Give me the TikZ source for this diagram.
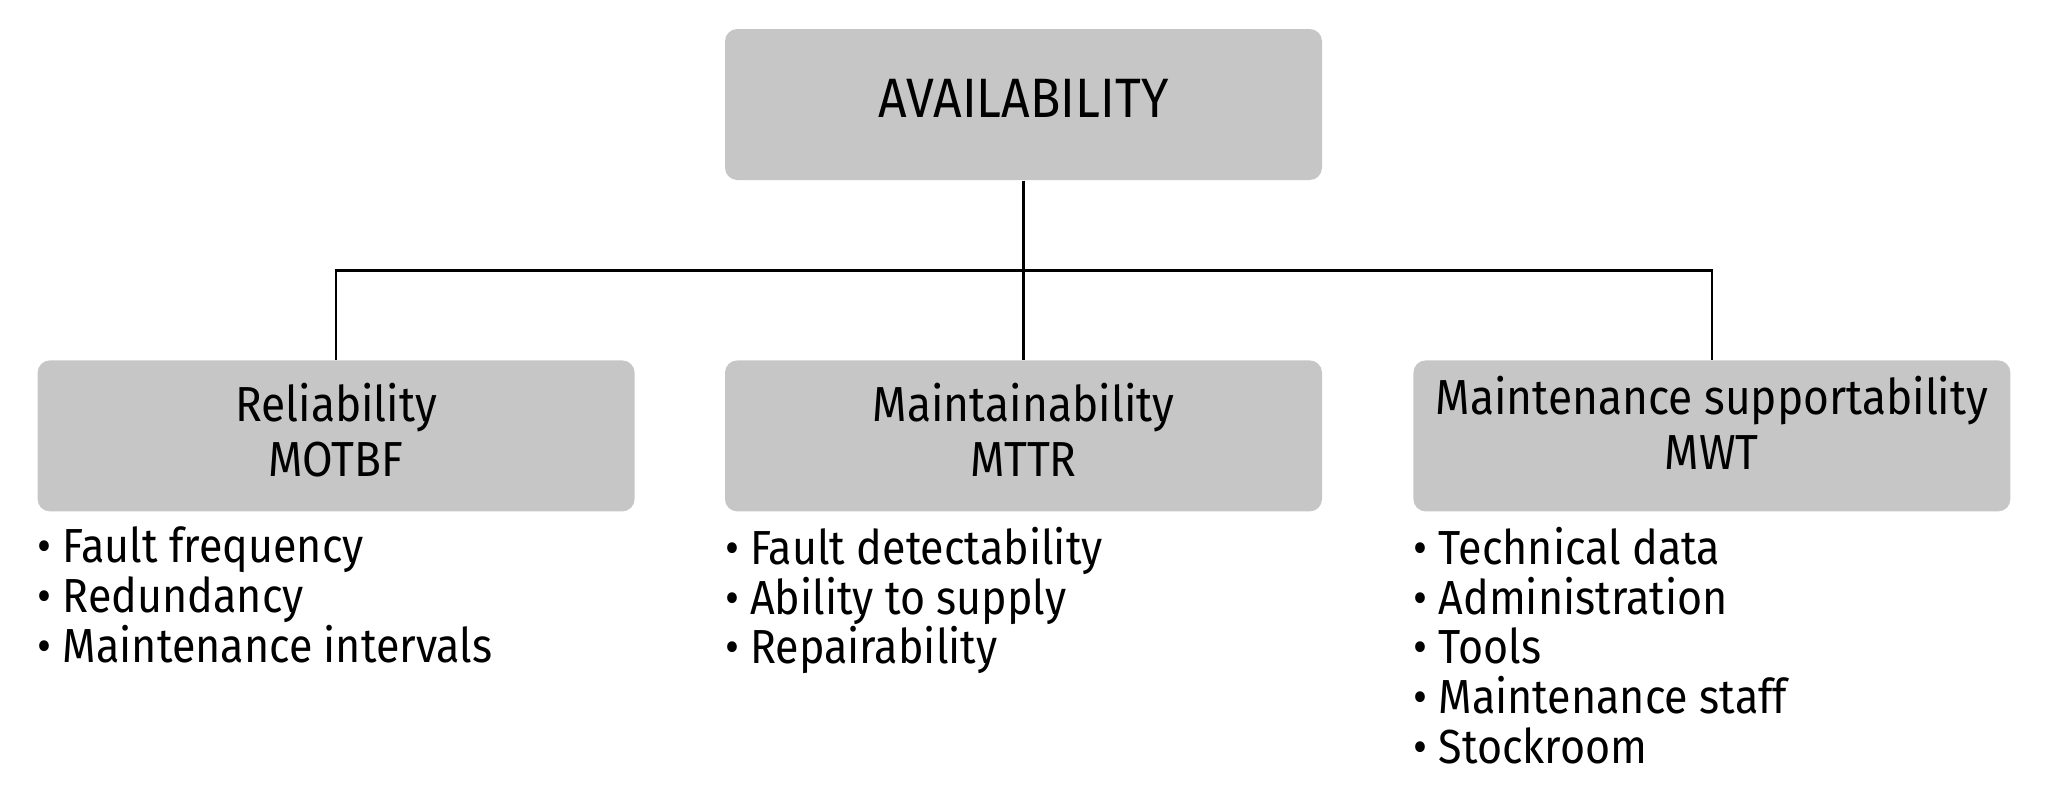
\documentclass[tikz,border=0pt]{standalone}
\usepackage{fontspec}
\setmainfont{Fira Sans}[FakeStretch=0.9]
\usetikzlibrary{positioning,calc}
\definecolor{boxgray}{HTML}{C6C6C6}
\tikzset{
    block/.style = {
        fill = boxgray,
        rounded corners = 3.5pt,
        minimum width = 5.97cm,
        minimum height = 1.51cm,
        inner xsep = 0pt,
        align = center,
        text depth = 3.6pt,
        font = \fontsize{14}{15.6}\selectfont,
        },
    top block/.style = {
        block,
        font = \fontsize{15.8}{17}\selectfont,
        },
    link/.style = {
        draw = black,
        line width = 0.75pt,
        },
    items/.style = {
        align = left,
        inner sep = 0pt,
        anchor = north west,
        font = \fontsize{13.6}{14.2}\selectfont,
        },
}

\begin{document}
\begin{tikzpicture}
            \useasboundingbox (0,0) rectangle (20.48,-7.88);

            \node[top block] (avail) at (10.235,-1.045) {AVAILABILITY};
            \node[block, below=1.79cm of avail] (maint) {Maintainability\\MTTR};
            \node[block, left=0.89cm of maint] (rel) {Reliability\\MOTBF};
            \node[block, text depth=7.3pt, right=0.90cm of maint] (supp) {Maintenance supportability\\MWT};

            \coordinate (bus) at ($(avail.south)!0.5!(maint.north)$);
            \draw[link] (avail) -- (maint);
            \draw[link] (rel.north) |- (bus) -| (supp.north);

            % lists under the boxes
            \node[items] (relitems) at ($(rel.south west)+(0,-0.14)$)
                {• Fault frequency\\• Redundancy\\• Maintenance intervals};
            \node[items] (maintitems) at ($(maint.south west)+(0,-0.14)$)
                {• Fault detectability\\• Ability to supply\\• Repairability};
            \node[items] (suppitems) at ($(supp.south west)+(0,-0.14)$)
                {• Technical data\\• Administration\\• Tools\\• Maintenance staff\\• Stockroom};
        \end{tikzpicture}
\end{document}
